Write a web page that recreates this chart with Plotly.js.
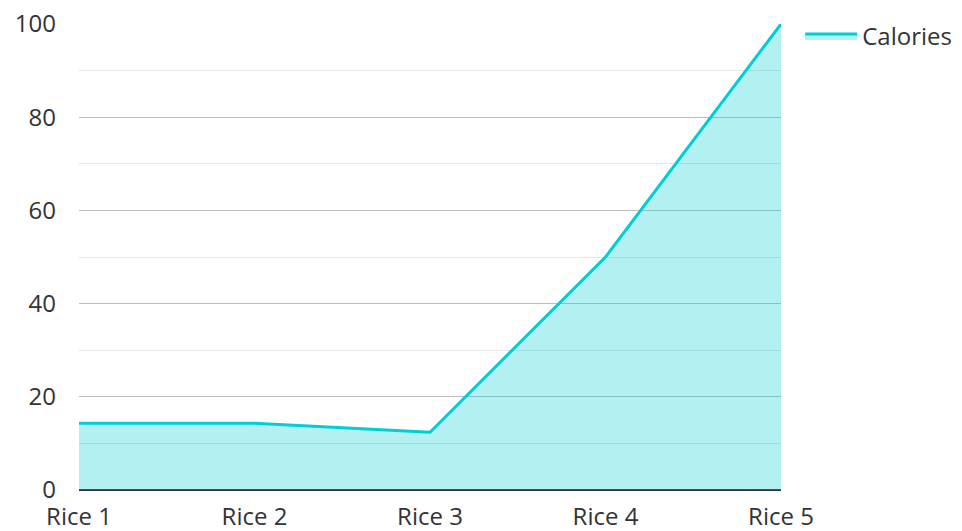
<!DOCTYPE html>
<html><head><meta charset="utf-8">
<script src="https://cdn.plot.ly/plotly-3.0.1.min.js"></script>
<style>body{margin:0;background:#fff}#c{width:962px;height:531px}</style>
</head><body><div id="c"></div>
<script>
const categories = ["Rice 1", "Rice 2", "Rice 3", "Rice 4", "Rice 5"];
const calories = [14.3, 14.3, 12.4, 50, 100];
const seriesName = "Calories";

const trace = {
  x: categories, y: calories, name: seriesName, type: "scatter", mode: "lines",
  fill: "tozeroy", fillcolor: "rgba(0,206,209,0.3)",
  line: {color: "#00CED1", width: 3}
};
const layout = {
  width: 962, height: 531,
  margin: {l: 79, r: 181, t: 24, b: 41},
  paper_bgcolor: "#fff", plot_bgcolor: "#fff",
  font: {family: "Open Sans, Noto Sans, sans-serif", size: 24, color: "#333"},
  showlegend: true,
  legend: {xref: "container", yref: "container", x: 0.8318, y: 0.9736, xanchor: "left", yanchor: "top",
           itemwidth: 52, font: {size: 24, color: "#333"}},
  xaxis: {type: "category", range: [0, 4], showgrid: false, zeroline: false, showline: false,
          ticks: "", ticklabelstandoff: 10, tickfont: {size: 24, color: "#333"}, automargin: false},
  yaxis: {range: [0, 100], dtick: 20, showgrid: true, gridcolor: "#bdbdbd", gridwidth: 1,
          minor: {dtick: 10, showgrid: true, gridcolor: "#e6e6e6", gridwidth: 1},
          zeroline: true, zerolinecolor: "#333", zerolinewidth: 2, showline: false,
          ticks: "", ticklabelstandoff: 22, tickfont: {size: 24, color: "#333"}, automargin: false}
};
Plotly.newPlot("c", [trace], layout, {displayModeBar: false, staticPlot: true});
</script></body></html>
